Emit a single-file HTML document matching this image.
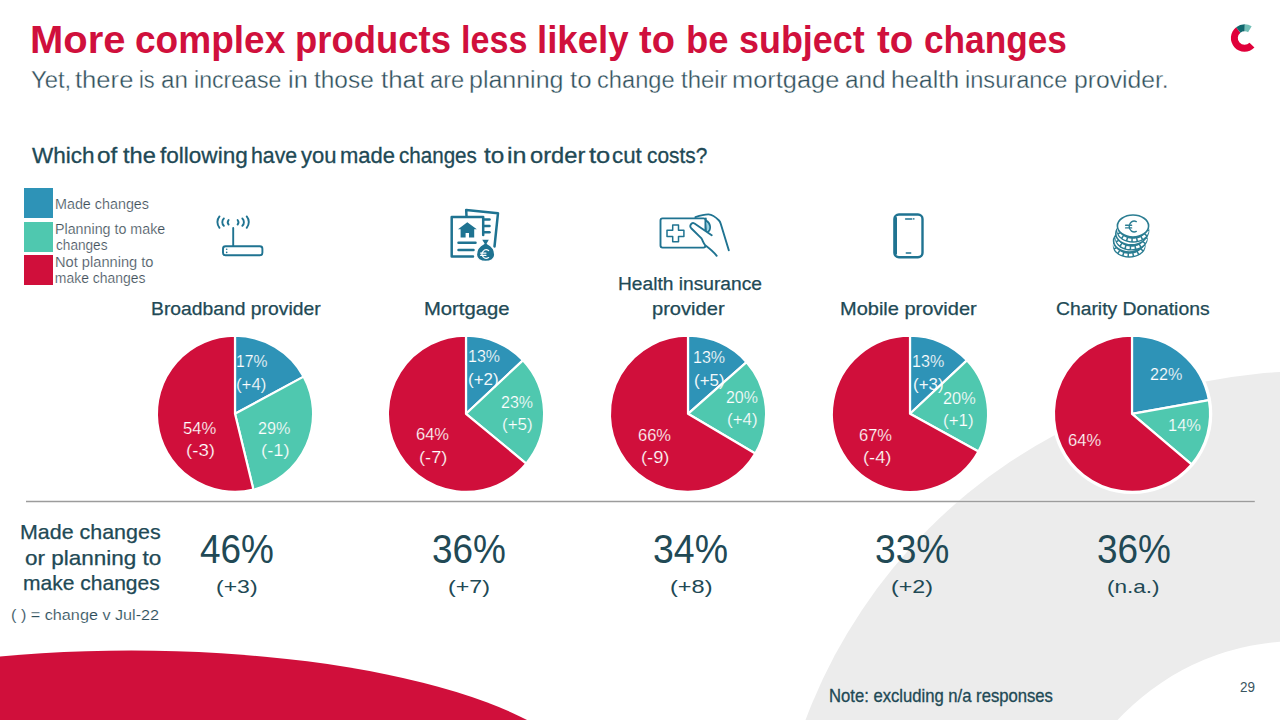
<!DOCTYPE html>
<html><head><meta charset="utf-8"><style>
html,body{margin:0;padding:0;}
body{width:1280px;height:720px;position:relative;overflow:hidden;background:#fff;font-family:"Liberation Sans",sans-serif;}
.t{position:absolute;white-space:nowrap;transform-origin:0 0;}
svg{position:absolute;left:0;top:0;}
</style></head><body>
<svg width="1280" height="720" viewBox="0 0 1280 720">
<circle cx="1308.7" cy="908.7" r="537.4" fill="#ECECEC"/>
<circle cx="1298.4" cy="887.6" r="246.5" fill="#fff"/>
<ellipse cx="131.3" cy="791.9" rx="459.7" ry="141.3" fill="#D00F3B"/>
<line x1="26" y1="501.5" x2="1254.8" y2="501.5" stroke="#fff" stroke-opacity="0.55" stroke-width="3.4"/>
<line x1="26" y1="501.5" x2="1254.8" y2="501.5" stroke="#9C9C9C" stroke-width="1.3"/>
<rect x="24" y="188" width="29" height="30" fill="#2E93B7"/>
<rect x="24" y="222" width="29" height="30" fill="#4FC8AF"/>
<rect x="24" y="255" width="29" height="30" fill="#D00F3B"/>
<circle cx="235" cy="413.8" r="80.3" fill="#fff"/><path d="M235,413.8 L235.00,335.70 A78.1,78.1 0 0 1 303.67,376.61 Z" fill="#2E93B7" stroke="#fff" stroke-width="2.2" stroke-linejoin="round"/>
<path d="M235,413.8 L303.67,376.61 A78.1,78.1 0 0 1 253.47,489.68 Z" fill="#4FC8AF" stroke="#fff" stroke-width="2.2" stroke-linejoin="round"/>
<path d="M235,413.8 L253.47,489.68 A78.1,78.1 0 1 1 235.00,335.70 Z" fill="#D00F3B" stroke="#fff" stroke-width="2.2" stroke-linejoin="round"/>
<circle cx="466" cy="413.8" r="80.3" fill="#fff"/><path d="M466,413.8 L466.00,335.70 A78.1,78.1 0 0 1 522.93,360.34 Z" fill="#2E93B7" stroke="#fff" stroke-width="2.2" stroke-linejoin="round"/>
<path d="M466,413.8 L522.93,360.34 A78.1,78.1 0 0 1 526.18,463.58 Z" fill="#4FC8AF" stroke="#fff" stroke-width="2.2" stroke-linejoin="round"/>
<path d="M466,413.8 L526.18,463.58 A78.1,78.1 0 1 1 466.00,335.70 Z" fill="#D00F3B" stroke="#fff" stroke-width="2.2" stroke-linejoin="round"/>
<circle cx="688" cy="413.8" r="80.3" fill="#fff"/><path d="M688,413.8 L688.00,335.70 A78.1,78.1 0 0 1 746.58,362.15 Z" fill="#2E93B7" stroke="#fff" stroke-width="2.2" stroke-linejoin="round"/>
<path d="M688,413.8 L746.58,362.15 A78.1,78.1 0 0 1 755.22,453.56 Z" fill="#4FC8AF" stroke="#fff" stroke-width="2.2" stroke-linejoin="round"/>
<path d="M688,413.8 L755.22,453.56 A78.1,78.1 0 1 1 688.00,335.70 Z" fill="#D00F3B" stroke="#fff" stroke-width="2.2" stroke-linejoin="round"/>
<circle cx="910" cy="413.8" r="80.3" fill="#fff"/><path d="M910,413.8 L910.00,335.70 A78.1,78.1 0 0 1 966.93,360.34 Z" fill="#2E93B7" stroke="#fff" stroke-width="2.2" stroke-linejoin="round"/>
<path d="M910,413.8 L966.93,360.34 A78.1,78.1 0 0 1 978.44,451.42 Z" fill="#4FC8AF" stroke="#fff" stroke-width="2.2" stroke-linejoin="round"/>
<path d="M910,413.8 L978.44,451.42 A78.1,78.1 0 1 1 910.00,335.70 Z" fill="#D00F3B" stroke="#fff" stroke-width="2.2" stroke-linejoin="round"/>
<circle cx="1132" cy="413.8" r="80.3" fill="#fff"/><path d="M1132,413.8 L1132.00,335.70 A78.1,78.1 0 0 1 1208.89,400.13 Z" fill="#2E93B7" stroke="#fff" stroke-width="2.2" stroke-linejoin="round"/>
<path d="M1132,413.8 L1208.89,400.13 A78.1,78.1 0 0 1 1191.55,464.34 Z" fill="#4FC8AF" stroke="#fff" stroke-width="2.2" stroke-linejoin="round"/>
<path d="M1132,413.8 L1191.55,464.34 A78.1,78.1 0 1 1 1132.00,335.70 Z" fill="#D00F3B" stroke="#fff" stroke-width="2.2" stroke-linejoin="round"/>
<path d="M1254.45,47.52 A13.7,13.7 0 1 1 1236.17,27.20 L1240.41,32.64 A6.8,6.8 0 1 0 1249.49,42.72 Z" fill="#E0003A"/><path d="M1236.17,27.20 A13.7,13.7 0 0 1 1244.84,24.30 L1244.72,31.20 A6.8,6.8 0 0 0 1240.41,32.64 Z" fill="#11686E"/><path d="M1244.84,24.30 A13.7,13.7 0 0 1 1251.66,26.26 L1248.10,32.17 A6.8,6.8 0 0 0 1244.72,31.20 Z" fill="#72BFB7"/>
<g fill="none" stroke="#1F7391" stroke-linecap="round" stroke-linejoin="round">
 <!-- router -->
 <g stroke-width="1.9">
  <rect x="223" y="246.3" width="39.4" height="9" rx="2.5"/>
  <line x1="233.2" y1="228" x2="233.2" y2="246"/>
  <path d="M219.50,216.4 A8.79,8.79 0 0 0 219.50,227.8"/>
  <path d="M246.70,216.4 A8.79,8.79 0 0 1 246.70,227.8"/>
  <path d="M223.85,218.5 A5.07,5.07 0 0 0 223.85,225.8"/>
  <path d="M242.35,218.5 A5.07,5.07 0 0 1 242.35,225.8"/>
  <path d="M228.60,220.0 A3.71,3.71 0 0 0 228.60,224.6"/>
  <path d="M237.60,220.0 A3.71,3.71 0 0 1 237.60,224.6"/>
 </g>
 <circle cx="226.7" cy="249.3" r="0.8" fill="#1F7391" stroke="none"/>
 <circle cx="226.7" cy="252.4" r="0.8" fill="#1F7391" stroke="none"/>
 <!-- mortgage -->
 <g stroke-width="2.5">
  <path d="M466.5,216.5 L466.2,210 L498,213.2 L494.5,246.5"/>
  <path d="M473,256.4 L451.7,256.4 L451.7,217 L483.2,217 L483.2,235"/>
  <line x1="483.5" y1="219.5" x2="489.5" y2="219.5"/>
  <line x1="483.5" y1="226" x2="489.5" y2="226"/>
  <line x1="483.5" y1="232.3" x2="489.5" y2="232.3"/>
  <line x1="458.5" y1="242.8" x2="475.5" y2="242.8"/>
  <line x1="458.5" y1="250" x2="473.5" y2="250"/>
 </g>
 <path d="M467.3,222.3 L458,229.2 L460.6,229.2 L460.6,237.6 L465.6,237.6 L465.6,233 L469,233 L469,237.6 L474.2,237.6 L474.2,229.2 L476.8,229.2 Z" fill="#1F7391" stroke="none"/>
 <path d="M481,239 L490,239 L487.4,243.6 C492.2,246 494.8,250.5 494.8,254.7 C494.8,259 490.7,261.5 485.6,261.5 C480.5,261.5 476.4,259 476.4,254.7 C476.4,250.5 479,246 483.8,243.6 Z" fill="#1F7391" stroke="#fff" stroke-width="1.4"/>
 <g stroke="#fff" stroke-width="1.2" fill="none">
  <path d="M488.6,250.6 A4.2,4.2 0 1 0 488.6,257.6"/>
  <line x1="480.6" y1="253.1" x2="486" y2="253.1"/>
  <line x1="480.6" y1="255.3" x2="486" y2="255.3"/>
 </g>
 <!-- health -->
 <g stroke-width="1.9">
  <rect x="660.5" y="218.4" width="45" height="29.2" rx="2"/>
 </g>
 <path d="M672.7,225 L678.5,225 L678.5,230.3 L683.9,230.3 L683.9,236.4 L678.5,236.4 L678.5,241.8 L672.7,241.8 L672.7,236.4 L667,236.4 L667,230.3 L672.7,230.3 Z" stroke-width="1.5"/>
 <path d="M695.4,217.2 C700,215.6 705,214.3 708.6,214.4 C712,214.6 716,217.5 719,220.5 C720,221.5 720.5,223 720.8,224 L728.8,250.3" stroke-width="1.9"/>
 <path d="M705.8,218.5 L705.8,230.8" stroke-width="1.8"/>
 <path d="M706,220.6 C708,221.5 709.6,223 710.1,226.2 C710.5,229 709.8,231 707.4,232.3" fill="#9BD3E3" stroke-width="1.7"/>
 <path d="M716.7,255.8 C713,251 709,248 705.2,245.2 C703.5,243.5 703,241 701.5,238.4 L691.2,228.2 C689,225.8 691.5,222 694.5,223.5 L711.7,235.3" fill="#fff" stroke-width="1.9"/>
 <!-- phone -->
 <rect x="894.4" y="214.5" width="28.1" height="42.7" rx="4.5" stroke-width="2.4"/>
 <path d="M895.5,218 L895.5,253.5" stroke-width="3"/>
 <line x1="905.6" y1="218.9" x2="911.8" y2="218.9" stroke-width="1.5"/>
 <circle cx="913.8" cy="218.9" r="0.8" fill="#1F7391" stroke="none"/>
 <line x1="906.3" y1="253.1" x2="910.7" y2="253.1" stroke-width="1.5"/>
 <!-- coins -->
 <ellipse cx="1129.2" cy="246.0" rx="16.4" ry="11.8" fill="#2B7D92" stroke="none"/>
 <path d="M1114.40,244.10 A14.80,11.0 0 0 0 1144.00,244.10" stroke="#fff" stroke-width="2.5" stroke-linecap="butt" stroke-dasharray="3.5 1.5"/>
 <ellipse cx="1129.2" cy="241.0" rx="15.6" ry="11.0" fill="#fff" stroke="#2B7D92" stroke-width="1.6"/>
 <ellipse cx="1131.4" cy="238.8" rx="16.4" ry="11.8" fill="#2B7D92" stroke="none"/>
 <path d="M1116.60,236.90 A14.80,11.0 0 0 0 1146.20,236.90" stroke="#fff" stroke-width="2.5" stroke-linecap="butt" stroke-dasharray="3.5 1.5"/>
 <ellipse cx="1131.4" cy="233.8" rx="15.6" ry="11.0" fill="#fff" stroke="#2B7D92" stroke-width="1.6"/>
 <ellipse cx="1133" cy="231.0" rx="16.4" ry="11.8" fill="#2B7D92" stroke="none"/>
 <path d="M1118.20,229.10 A14.80,11.0 0 0 0 1147.80,229.10" stroke="#fff" stroke-width="2.5" stroke-linecap="butt" stroke-dasharray="3.5 1.5"/>
 <ellipse cx="1133" cy="226" rx="15.6" ry="11.0" fill="#fff" stroke="#2B7D92" stroke-width="1.6"/>
 <g stroke="#2B7D92" stroke-width="1.4" fill="none">
  <path d="M1136.3,221.6 A5,5.4 0 1 0 1136.3,231.4"/>
  <line x1="1125.6" y1="225.2" x2="1131.6" y2="225.2"/>
  <line x1="1125.6" y1="227.9" x2="1131.6" y2="227.9"/>
 </g>
</g>

</svg>
<div class="t" style="left:29.96px;top:19.50px;font-size:39.099px;line-height:39.099px;font-weight:700;color:#D0103C;transform:scaleX(1.0220);">More</div><div class="t" style="left:135.30px;top:19.50px;font-size:39.099px;line-height:39.099px;font-weight:700;color:#D0103C;transform:scaleX(0.9475);">complex</div><div class="t" style="left:295.13px;top:19.50px;font-size:39.099px;line-height:39.099px;font-weight:700;color:#D0103C;transform:scaleX(0.9329);">products</div><div class="t" style="left:460.75px;top:19.50px;font-size:39.099px;line-height:39.099px;font-weight:700;color:#D0103C;transform:scaleX(0.8733);">less</div><div class="t" style="left:536.88px;top:19.50px;font-size:39.099px;line-height:39.099px;font-weight:700;color:#D0103C;transform:scaleX(0.9375);">likely</div><div class="t" style="left:638.75px;top:19.50px;font-size:39.099px;line-height:39.099px;font-weight:700;color:#D0103C;transform:scaleX(0.9722);">to</div><div class="t" style="left:685.64px;top:19.50px;font-size:39.099px;line-height:39.099px;font-weight:700;color:#D0103C;transform:scaleX(0.9302);">be</div><div class="t" style="left:739.08px;top:19.50px;font-size:39.099px;line-height:39.099px;font-weight:700;color:#D0103C;transform:scaleX(0.9191);">subject</div><div class="t" style="left:876.50px;top:19.50px;font-size:39.099px;line-height:39.099px;font-weight:700;color:#D0103C;transform:scaleX(0.9833);">to</div><div class="t" style="left:924.10px;top:19.50px;font-size:39.099px;line-height:39.099px;font-weight:700;color:#D0103C;transform:scaleX(0.9013);">changes</div><div class="t" style="left:30.63px;top:67.94px;font-size:24.564px;line-height:24.564px;font-weight:400;color:#2F4F5B;transform:scaleX(0.9718);-webkit-text-stroke:0.35px #fff">Yet,</div><div class="t" style="left:75.40px;top:67.94px;font-size:24.564px;line-height:24.564px;font-weight:400;color:#2F4F5B;transform:scaleX(1.0436);-webkit-text-stroke:0.35px #fff">there</div><div class="t" style="left:138.92px;top:67.94px;font-size:24.564px;line-height:24.564px;font-weight:400;color:#2F4F5B;transform:scaleX(0.8812);-webkit-text-stroke:0.35px #fff">is</div><div class="t" style="left:161.12px;top:67.94px;font-size:24.564px;line-height:24.564px;font-weight:400;color:#2F4F5B;transform:scaleX(0.9840);-webkit-text-stroke:0.35px #fff">an</div><div class="t" style="left:193.96px;top:67.94px;font-size:24.564px;line-height:24.564px;font-weight:400;color:#2F4F5B;transform:scaleX(0.9407);-webkit-text-stroke:0.35px #fff">increase</div><div class="t" style="left:287.56px;top:67.94px;font-size:24.564px;line-height:24.564px;font-weight:400;color:#2F4F5B;transform:scaleX(1.0353);-webkit-text-stroke:0.35px #fff">in</div><div class="t" style="left:314.00px;top:67.94px;font-size:24.564px;line-height:24.564px;font-weight:400;color:#2F4F5B;transform:scaleX(0.9949);-webkit-text-stroke:0.35px #fff">those</div><div class="t" style="left:380.90px;top:67.94px;font-size:24.564px;line-height:24.564px;font-weight:400;color:#2F4F5B;transform:scaleX(1.0561);-webkit-text-stroke:0.35px #fff">that</div><div class="t" style="left:430.24px;top:67.94px;font-size:24.564px;line-height:24.564px;font-weight:400;color:#2F4F5B;transform:scaleX(0.9647);-webkit-text-stroke:0.35px #fff">are</div><div class="t" style="left:468.88px;top:67.94px;font-size:24.564px;line-height:24.564px;font-weight:400;color:#2F4F5B;transform:scaleX(1.0176);-webkit-text-stroke:0.35px #fff">planning</div><div class="t" style="left:569.50px;top:67.94px;font-size:24.564px;line-height:24.564px;font-weight:400;color:#2F4F5B;transform:scaleX(1.0550);-webkit-text-stroke:0.35px #fff">to</div><div class="t" style="left:596.64px;top:67.94px;font-size:24.564px;line-height:24.564px;font-weight:400;color:#2F4F5B;transform:scaleX(0.9639);-webkit-text-stroke:0.35px #fff">change</div><div class="t" style="left:680.80px;top:67.94px;font-size:24.564px;line-height:24.564px;font-weight:400;color:#2F4F5B;transform:scaleX(0.9750);-webkit-text-stroke:0.35px #fff">their</div><div class="t" style="left:732.47px;top:67.94px;font-size:24.564px;line-height:24.564px;font-weight:400;color:#2F4F5B;transform:scaleX(1.0343);-webkit-text-stroke:0.35px #fff">mortgage</div><div class="t" style="left:844.81px;top:67.94px;font-size:24.564px;line-height:24.564px;font-weight:400;color:#2F4F5B;transform:scaleX(0.9923);-webkit-text-stroke:0.35px #fff">and</div><div class="t" style="left:891.08px;top:67.94px;font-size:24.564px;line-height:24.564px;font-weight:400;color:#2F4F5B;transform:scaleX(1.0185);-webkit-text-stroke:0.35px #fff">health</div><div class="t" style="left:965.04px;top:67.94px;font-size:24.564px;line-height:24.564px;font-weight:400;color:#2F4F5B;transform:scaleX(0.9610);-webkit-text-stroke:0.35px #fff">insurance</div><div class="t" style="left:1073.99px;top:67.94px;font-size:24.564px;line-height:24.564px;font-weight:400;color:#2F4F5B;transform:scaleX(1.0055);-webkit-text-stroke:0.35px #fff">provider.</div><div class="t" style="left:31.60px;top:144.80px;font-size:22.238px;line-height:22.238px;font-weight:400;color:#214955;transform:scaleX(1.0131);-webkit-text-stroke:0.3px #214955">Which</div><div class="t" style="left:97.01px;top:144.80px;font-size:22.238px;line-height:22.238px;font-weight:400;color:#214955;transform:scaleX(1.0944);-webkit-text-stroke:0.3px #214955">of</div><div class="t" style="left:122.50px;top:144.80px;font-size:22.238px;line-height:22.238px;font-weight:400;color:#214955;transform:scaleX(1.0633);-webkit-text-stroke:0.3px #214955">the</div><div class="t" style="left:160.00px;top:144.80px;font-size:22.238px;line-height:22.238px;font-weight:400;color:#214955;transform:scaleX(1.0147);-webkit-text-stroke:0.3px #214955">following</div><div class="t" style="left:250.94px;top:144.80px;font-size:22.238px;line-height:22.238px;font-weight:400;color:#214955;transform:scaleX(0.9565);-webkit-text-stroke:0.3px #214955">have</div><div class="t" style="left:300.60px;top:144.80px;font-size:22.238px;line-height:22.238px;font-weight:400;color:#214955;transform:scaleX(0.9914);-webkit-text-stroke:0.3px #214955">you</div><div class="t" style="left:339.91px;top:144.80px;font-size:22.238px;line-height:22.238px;font-weight:400;color:#214955;transform:scaleX(0.9907);-webkit-text-stroke:0.3px #214955">made</div><div class="t" style="left:399.07px;top:144.80px;font-size:22.238px;line-height:22.238px;font-weight:400;color:#214955;transform:scaleX(0.9265);-webkit-text-stroke:0.3px #214955">changes</div><div class="t" style="left:483.75px;top:144.80px;font-size:22.238px;line-height:22.238px;font-weight:400;color:#214955;transform:scaleX(1.0917);-webkit-text-stroke:0.3px #214955">to</div><div class="t" style="left:506.97px;top:144.80px;font-size:22.238px;line-height:22.238px;font-weight:400;color:#214955;transform:scaleX(1.1267);-webkit-text-stroke:0.3px #214955">in</div><div class="t" style="left:529.53px;top:144.80px;font-size:22.238px;line-height:22.238px;font-weight:400;color:#214955;transform:scaleX(1.0667);-webkit-text-stroke:0.3px #214955">order</div><div class="t" style="left:588.75px;top:144.80px;font-size:22.238px;line-height:22.238px;font-weight:400;color:#214955;transform:scaleX(1.1472);-webkit-text-stroke:0.3px #214955">to</div><div class="t" style="left:612.10px;top:144.80px;font-size:22.238px;line-height:22.238px;font-weight:400;color:#214955;transform:scaleX(1.0034);-webkit-text-stroke:0.3px #214955">cut</div><div class="t" style="left:646.86px;top:144.80px;font-size:22.238px;line-height:22.238px;font-weight:400;color:#214955;transform:scaleX(0.9381);-webkit-text-stroke:0.3px #214955">costs?</div><div class="t" style="left:54.77px;top:197.75px;font-size:13.953px;line-height:13.953px;font-weight:400;color:#3F505A;transform:scaleX(1.0278);-webkit-text-stroke:0.2px #fff">Made changes</div><div class="t" style="left:54.78px;top:222.75px;font-size:13.953px;line-height:13.953px;font-weight:400;color:#3F505A;transform:scaleX(1.0234);-webkit-text-stroke:0.2px #fff">Planning to make</div><div class="t" style="left:55.80px;top:239.40px;font-size:13.953px;line-height:13.953px;font-weight:400;color:#3F505A;transform:scaleX(0.9774);-webkit-text-stroke:0.2px #fff">changes</div><div class="t" style="left:54.75px;top:256.00px;font-size:13.953px;line-height:13.953px;font-weight:400;color:#3F505A;transform:scaleX(1.0505);-webkit-text-stroke:0.2px #fff">Not planning to</div><div class="t" style="left:54.80px;top:272.00px;font-size:13.953px;line-height:13.953px;font-weight:400;color:#3F505A;transform:scaleX(1.0000);-webkit-text-stroke:0.2px #fff">make changes</div><div class="t" style="left:150.82px;top:300.60px;font-size:17.878px;line-height:17.878px;font-weight:400;color:#214955;transform:scaleX(1.0814);-webkit-text-stroke:0.25px #214955">Broadband provider</div><div class="t" style="left:424.47px;top:301.00px;font-size:17.878px;line-height:17.878px;font-weight:400;color:#214955;transform:scaleX(1.1324);-webkit-text-stroke:0.25px #214955">Mortgage</div><div class="t" style="left:617.68px;top:276.00px;font-size:17.878px;line-height:17.878px;font-weight:400;color:#214955;transform:scaleX(1.0741);-webkit-text-stroke:0.25px #214955">Health insurance</div><div class="t" style="left:651.88px;top:301.00px;font-size:17.878px;line-height:17.878px;font-weight:400;color:#214955;transform:scaleX(1.1250);-webkit-text-stroke:0.25px #214955">provider</div><div class="t" style="left:840.18px;top:301.00px;font-size:17.878px;line-height:17.878px;font-weight:400;color:#214955;transform:scaleX(1.1198);-webkit-text-stroke:0.25px #214955">Mobile provider</div><div class="t" style="left:1055.82px;top:301.00px;font-size:17.878px;line-height:17.878px;font-weight:400;color:#214955;transform:scaleX(1.0816);-webkit-text-stroke:0.25px #214955">Charity Donations</div><div class="t" style="left:236.37px;top:354.10px;font-size:16.860px;line-height:16.860px;font-weight:400;color:#FFFFFF;transform:scaleX(0.9303);-webkit-text-stroke:0.22px #2E93B7">17%</div><div class="t" style="left:236.30px;top:376.70px;font-size:16.860px;line-height:16.860px;font-weight:400;color:#FFFFFF;transform:scaleX(0.9966);-webkit-text-stroke:0.22px #2E93B7">(+4)</div><div class="t" style="left:258.04px;top:420.90px;font-size:16.860px;line-height:16.860px;font-weight:400;color:#FFFFFF;transform:scaleX(0.9576);-webkit-text-stroke:0.22px #4FC8AF">29%</div><div class="t" style="left:260.61px;top:443.40px;font-size:16.860px;line-height:16.860px;font-weight:400;color:#FFFFFF;transform:scaleX(1.0917);-webkit-text-stroke:0.22px #4FC8AF">(-1)</div><div class="t" style="left:182.72px;top:420.90px;font-size:16.860px;line-height:16.860px;font-weight:400;color:#FFFFFF;transform:scaleX(0.9848);-webkit-text-stroke:0.22px #D00F3B">54%</div><div class="t" style="left:185.59px;top:443.40px;font-size:16.860px;line-height:16.860px;font-weight:400;color:#FFFFFF;transform:scaleX(1.1083);-webkit-text-stroke:0.22px #D00F3B">(-3)</div><div class="t" style="left:467.80px;top:349.00px;font-size:16.860px;line-height:16.860px;font-weight:400;color:#FFFFFF;transform:scaleX(0.9470);-webkit-text-stroke:0.22px #2E93B7">13%</div><div class="t" style="left:467.74px;top:371.50px;font-size:16.860px;line-height:16.860px;font-weight:400;color:#FFFFFF;transform:scaleX(1.0052);opacity:0.93">(+2)</div><div class="t" style="left:501.05px;top:394.90px;font-size:16.860px;line-height:16.860px;font-weight:400;color:#FFFFFF;transform:scaleX(0.9485);-webkit-text-stroke:0.22px #4FC8AF">23%</div><div class="t" style="left:501.99px;top:417.40px;font-size:16.860px;line-height:16.860px;font-weight:400;color:#FFFFFF;transform:scaleX(1.0103);-webkit-text-stroke:0.22px #4FC8AF">(+5)</div><div class="t" style="left:415.72px;top:427.20px;font-size:16.860px;line-height:16.860px;font-weight:400;color:#FFFFFF;transform:scaleX(0.9788);-webkit-text-stroke:0.22px #D00F3B">64%</div><div class="t" style="left:418.72px;top:449.70px;font-size:16.860px;line-height:16.860px;font-weight:400;color:#FFFFFF;transform:scaleX(1.0833);-webkit-text-stroke:0.22px #D00F3B">(-7)</div><div class="t" style="left:693.45px;top:350.10px;font-size:16.860px;line-height:16.860px;font-weight:400;color:#FFFFFF;transform:scaleX(0.9515);-webkit-text-stroke:0.22px #2E93B7">13%</div><div class="t" style="left:693.59px;top:372.60px;font-size:16.860px;line-height:16.860px;font-weight:400;color:#FFFFFF;transform:scaleX(1.0052);opacity:0.93">(+5)</div><div class="t" style="left:726.35px;top:389.70px;font-size:16.860px;line-height:16.860px;font-weight:400;color:#FFFFFF;transform:scaleX(0.9455);-webkit-text-stroke:0.22px #4FC8AF">20%</div><div class="t" style="left:726.90px;top:412.20px;font-size:16.860px;line-height:16.860px;font-weight:400;color:#FFFFFF;transform:scaleX(1.0034);-webkit-text-stroke:0.22px #4FC8AF">(+4)</div><div class="t" style="left:637.77px;top:427.80px;font-size:16.860px;line-height:16.860px;font-weight:400;color:#FFFFFF;transform:scaleX(0.9773);-webkit-text-stroke:0.22px #D00F3B">66%</div><div class="t" style="left:640.82px;top:450.30px;font-size:16.860px;line-height:16.860px;font-weight:400;color:#FFFFFF;transform:scaleX(1.0833);-webkit-text-stroke:0.22px #D00F3B">(-9)</div><div class="t" style="left:912.35px;top:354.30px;font-size:16.860px;line-height:16.860px;font-weight:400;color:#FFFFFF;transform:scaleX(0.9545);-webkit-text-stroke:0.22px #2E93B7">13%</div><div class="t" style="left:913.00px;top:376.80px;font-size:16.860px;line-height:16.860px;font-weight:400;color:#FFFFFF;transform:scaleX(1.0034);opacity:0.93">(+3)</div><div class="t" style="left:942.53px;top:390.75px;font-size:16.860px;line-height:16.860px;font-weight:400;color:#FFFFFF;transform:scaleX(0.9667);-webkit-text-stroke:0.22px #4FC8AF">20%</div><div class="t" style="left:943.20px;top:413.25px;font-size:16.860px;line-height:16.860px;font-weight:400;color:#FFFFFF;transform:scaleX(1.0034);-webkit-text-stroke:0.22px #4FC8AF">(+1)</div><div class="t" style="left:859.42px;top:427.80px;font-size:16.860px;line-height:16.860px;font-weight:400;color:#FFFFFF;transform:scaleX(0.9788);-webkit-text-stroke:0.22px #D00F3B">67%</div><div class="t" style="left:862.92px;top:450.30px;font-size:16.860px;line-height:16.860px;font-weight:400;color:#FFFFFF;transform:scaleX(1.0833);-webkit-text-stroke:0.22px #D00F3B">(-4)</div><div class="t" style="left:1150.04px;top:367.20px;font-size:16.860px;line-height:16.860px;font-weight:400;color:#FFFFFF;transform:scaleX(0.9576);-webkit-text-stroke:0.22px #2E93B7">22%</div><div class="t" style="left:1167.92px;top:417.80px;font-size:16.860px;line-height:16.860px;font-weight:400;color:#FFFFFF;transform:scaleX(0.9758);-webkit-text-stroke:0.22px #4FC8AF">14%</div><div class="t" style="left:1067.62px;top:432.90px;font-size:16.860px;line-height:16.860px;font-weight:400;color:#FFFFFF;transform:scaleX(0.9818);-webkit-text-stroke:0.22px #D00F3B">64%</div><div class="t" style="left:20.41px;top:522.80px;font-size:19.767px;line-height:19.767px;font-weight:400;color:#214955;transform:scaleX(1.0852);-webkit-text-stroke:0.25px #214955">Made changes</div><div class="t" style="left:24.86px;top:548.80px;font-size:19.767px;line-height:19.767px;font-weight:400;color:#214955;transform:scaleX(1.1390);-webkit-text-stroke:0.25px #214955">or planning to</div><div class="t" style="left:23.44px;top:573.80px;font-size:19.767px;line-height:19.767px;font-weight:400;color:#214955;transform:scaleX(1.0646);-webkit-text-stroke:0.25px #214955">make changes</div><div class="t" style="left:10.66px;top:607.70px;font-size:14.244px;line-height:14.244px;font-weight:400;color:#2F4F5B;transform:scaleX(1.1380);-webkit-text-stroke:0.15px #fff">( ) = change v Jul-22</div><div class="t" style="left:199.58px;top:530.30px;font-size:40.262px;line-height:40.262px;font-weight:400;color:#214955;transform:scaleX(0.9177);">46%</div><div class="t" style="left:216.30px;top:576.80px;font-size:19.186px;line-height:19.186px;font-weight:400;color:#214955;transform:scaleX(1.2000);">(+3)</div><div class="t" style="left:431.58px;top:530.30px;font-size:40.262px;line-height:40.262px;font-weight:400;color:#214955;transform:scaleX(0.9177);">36%</div><div class="t" style="left:447.79px;top:576.80px;font-size:19.186px;line-height:19.186px;font-weight:400;color:#214955;transform:scaleX(1.2121);">(+7)</div><div class="t" style="left:653.07px;top:530.30px;font-size:40.262px;line-height:40.262px;font-weight:400;color:#214955;transform:scaleX(0.9304);">34%</div><div class="t" style="left:669.77px;top:576.80px;font-size:19.186px;line-height:19.186px;font-weight:400;color:#214955;transform:scaleX(1.2273);">(+8)</div><div class="t" style="left:875.08px;top:530.30px;font-size:40.262px;line-height:40.262px;font-weight:400;color:#214955;transform:scaleX(0.9241);">33%</div><div class="t" style="left:891.29px;top:576.80px;font-size:19.186px;line-height:19.186px;font-weight:400;color:#214955;transform:scaleX(1.2121);">(+2)</div><div class="t" style="left:1096.58px;top:530.30px;font-size:40.262px;line-height:40.262px;font-weight:400;color:#214955;transform:scaleX(0.9177);">36%</div><div class="t" style="left:1107.33px;top:576.80px;font-size:19.186px;line-height:19.186px;font-weight:400;color:#214955;transform:scaleX(1.1744);">(n.a.)</div><div class="t" style="left:828.85px;top:687.75px;font-size:17.587px;line-height:17.587px;font-weight:400;color:#214955;transform:scaleX(0.9468);-webkit-text-stroke:0.3px #214955">Note: excluding n/a responses</div><div class="t" style="left:1239.60px;top:680.00px;font-size:14.244px;line-height:14.244px;font-weight:400;color:#3A5560;transform:scaleX(0.9438);">29</div>
</body></html>
